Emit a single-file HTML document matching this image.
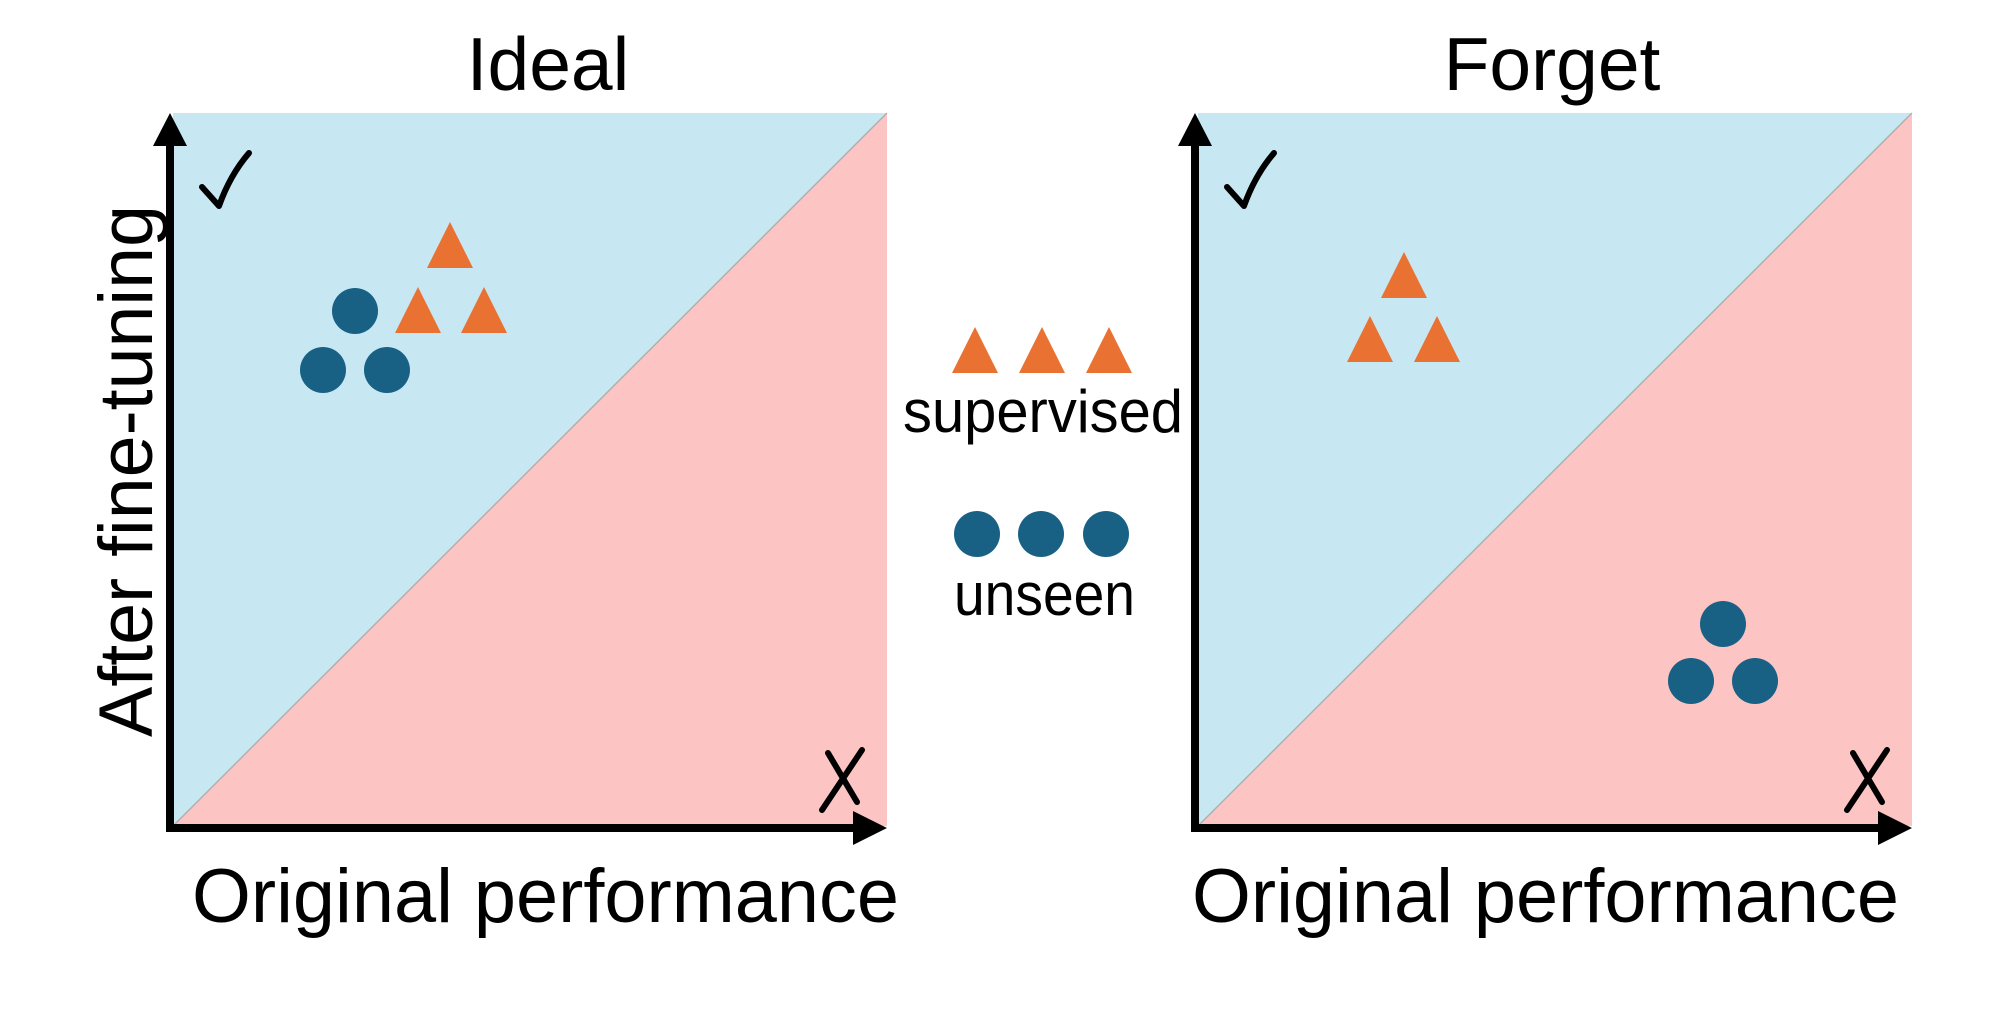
<!DOCTYPE html>
<html><head><meta charset="utf-8"><style>
html,body{margin:0;padding:0;background:#fff}
svg{display:block}
text{font-family:"Liberation Sans",Arial,sans-serif;fill:#000}
</style></head><body>
<svg width="1998" height="1031" viewBox="0 0 1998 1031" xmlns="http://www.w3.org/2000/svg">
<defs>
<g id="panel">
  <polygon points="173,113 887,113 173,826" fill="#c7e8f3"/>
  <polygon points="887,113 887,826 173,826" fill="#fdc4c4"/>
  <line x1="173" y1="826" x2="887" y2="113" stroke="#b0b0b0" stroke-width="1.5"/>
  <line x1="170" y1="140" x2="170" y2="832" stroke="#000" stroke-width="8"/>
  <polygon points="170,113 153,146 187,146" fill="#000"/>
  <line x1="166" y1="828" x2="860" y2="828" stroke="#000" stroke-width="8"/>
  <polygon points="887,828 853,811 853,845" fill="#000"/>
  <path d="M202,187 L219,206 Q230,175 249,153" fill="none" stroke="#000" stroke-width="6" stroke-linecap="round" stroke-linejoin="round"/>
  <line x1="828" y1="753" x2="857" y2="802" stroke="#000" stroke-width="6" stroke-linecap="round"/>
  <line x1="862" y1="750" x2="822" y2="810" stroke="#000" stroke-width="6" stroke-linecap="round"/>
</g>
</defs>
<use href="#panel"/>
<use href="#panel" x="1025"/>

<text x="548" y="90" font-size="75" text-anchor="middle">Ideal</text>
<text x="1552" y="90" font-size="75" text-anchor="middle">Forget</text>
<text x="192" y="922" font-size="76" textLength="707" lengthAdjust="spacingAndGlyphs">Original performance</text>
<text x="1192" y="922" font-size="76" textLength="707" lengthAdjust="spacingAndGlyphs">Original performance</text>
<text transform="translate(152,737) rotate(-90)" font-size="76" textLength="532" lengthAdjust="spacingAndGlyphs">After fine-tuning</text>

<g fill="#e97132">
  <polygon points="450,222 427,268 473,268"/>
  <polygon points="418,287 395,333 441,333"/>
  <polygon points="484,287 461,333 507,333"/>
  <polygon points="975,327 952,373 998,373"/>
  <polygon points="1042,327 1019,373 1065,373"/>
  <polygon points="1109,327 1086,373 1132,373"/>
  <polygon points="1404,252 1381,298 1427,298"/>
  <polygon points="1370,316 1347,362 1393,362"/>
  <polygon points="1437,316 1414,362 1460,362"/>
</g>
<g fill="#196184">
  <circle cx="355" cy="311" r="23"/>
  <circle cx="323" cy="370" r="23"/>
  <circle cx="387" cy="370" r="23"/>
  <circle cx="977" cy="534" r="23"/>
  <circle cx="1041" cy="534" r="23"/>
  <circle cx="1106" cy="534" r="23"/>
  <circle cx="1723" cy="624" r="23"/>
  <circle cx="1691" cy="681" r="23"/>
  <circle cx="1755" cy="681" r="23"/>
</g>
<text x="903" y="432" font-size="60" textLength="280" lengthAdjust="spacingAndGlyphs">supervised</text>
<text x="954" y="615" font-size="60" textLength="181" lengthAdjust="spacingAndGlyphs">unseen</text>
</svg>
</body></html>
